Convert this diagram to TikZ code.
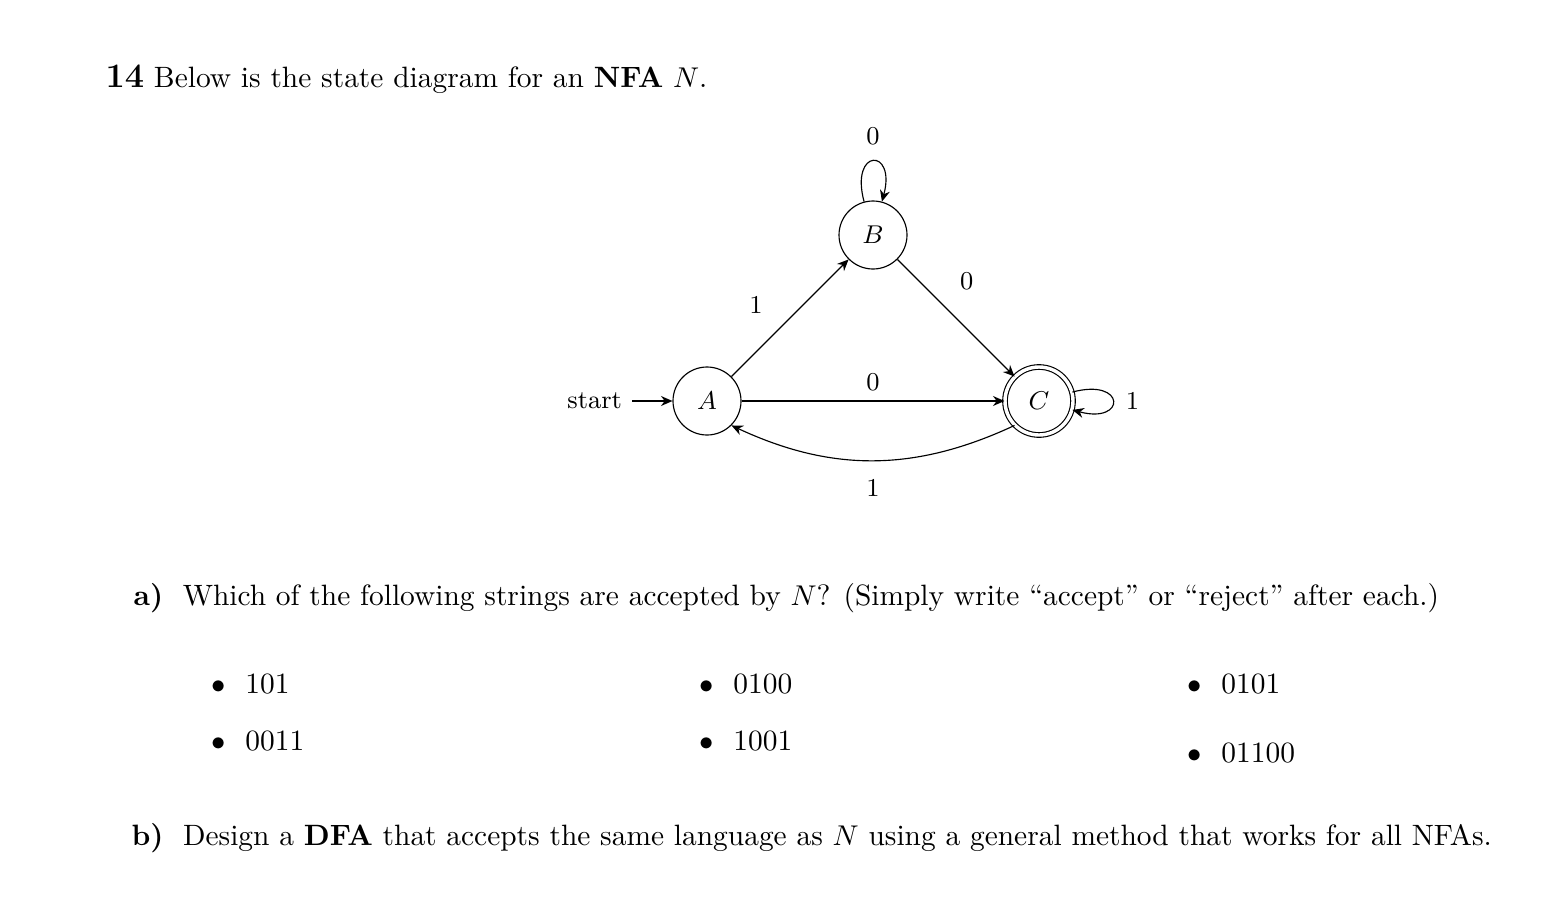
\documentclass[tikz,border=0pt]{standalone}
\usetikzlibrary{arrows.meta,automata,calc}
\begin{document}
\begin{tikzpicture}[x=0.35pt,y=-0.35pt,
  st/.style={circle,draw,minimum size=23.8pt,inner sep=0pt,font=\fontsize{9}{10}\selectfont},
  arr/.style={-{Stealth[length=4pt,width=3.5pt]},thin},
  lbl/.style={font=\fontsize{9}{10}\selectfont},
  txt/.style={anchor=base west,inner sep=0pt,font=\fontsize{10.3}{12}\selectfont}]
\useasboundingbox (0,0) rectangle (1545,900);
\node[txt] (t) at (105,87) {\textbf{\large 14} Below is the state diagram for an \textbf{NFA} $N$.};
\node[st] (A) at (707,401) {$A$};
\node[st] (B) at (873,235) {$B$};
\node[st,double,double distance=1.2pt] (C) at (1039,401) {$C$};
\node[lbl,anchor=east] (s) at (632,401) {start};
\draw[arr] (s) -- (A);
\draw[arr] (A) -- node[lbl,pos=0.4,above left=2pt] {1} (B);
\draw[arr] (B) -- node[lbl,pos=0.4,above right=2pt] {0} (C);
\draw[arr] (A) -- node[lbl,above] {0} (C);
\draw[arr] (C.south west) to[bend left=25] node[lbl,below=3pt] {1} (A.south east);
\draw[arr] (B.105) to[out=105,in=75,looseness=8] node[lbl,above=2pt] {0} (B.75);
\draw[arr] (C.15) to[out=15,in=-15,looseness=8] node[lbl,right=1pt] {1} (C.-15);
\node[txt] (qa) at (133,605) {\textbf{a)}\ \ Which of the following strings are accepted by $N$? (Simply write ``accept'' or ``reject'' after each.)};
\node[txt] (i1) at (211,693) {$\bullet$\ \ 101};
\node[txt] (i2) at (211,750) {$\bullet$\ \ 0011};
\node[txt] (i3) at (699,693) {$\bullet$\ \ 0100};
\node[txt] (i4) at (699,750) {$\bullet$\ \ 1001};
\node[txt] (i5) at (1187,693) {$\bullet$\ \ 0101};
\node[txt] (i6) at (1187,762) {$\bullet$\ \ 01100};
\node[txt] (qb) at (131,845) {\textbf{b)}\ \ Design a \textbf{DFA} that accepts the same language as $N$ using a general method that works for all NFAs.};
\end{tikzpicture}
\end{document}
